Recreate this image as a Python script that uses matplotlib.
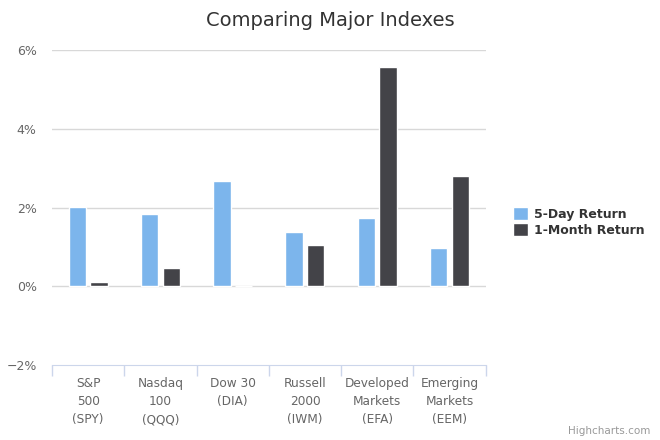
import numpy as np
import matplotlib.pyplot as plt

categories = ['S&P\n500\n(SPY)', 'Nasdaq\n100\n(QQQ)', 'Dow 30\n(DIA)',
              'Russell\n2000\n(IWM)', 'Developed\nMarkets\n(EFA)', 'Emerging\nMarkets\n(EEM)']
five_day = [2.01, 1.83, 2.67, 1.37, 1.73, 0.97]
one_month = [0.12, 0.46, 0.0, 1.04, 5.57, 2.80]
yticks = [-2, 0, 2, 4, 6]

fig = plt.figure(figsize=(6.6, 4.4), dpi=100)
ax = fig.add_axes([0.0788, 0.1705, 0.657, 0.7155])

x = np.arange(len(categories))
w = 0.24
ax.bar(x - 0.15, five_day, w, color='#7cb5ec', edgecolor='white', linewidth=1, zorder=3,
       label='5-Day Return')
ax.bar(x + 0.15, one_month, w, color='#434348', edgecolor='white', linewidth=1, zorder=3,
       label='1-Month Return')

ax.set_xlim(-0.5, len(categories) - 0.5)
ax.set_ylim(-2, 6)
ax.set_yticks(yticks)
ax.set_yticklabels(['%d%%' % v if v >= 0 else '\u2212%d%%' % -v for v in yticks])
for v in yticks[1:]:
    ax.axhline(v, color='#d8d8d8', linewidth=1, zorder=1)

ax.set_xticks(x)
ax.set_xticklabels(categories, linespacing=1.5)
ax.set_xticks(np.arange(-0.5, len(categories)), minor=True)
ax.tick_params(axis='x', which='major', length=0, pad=9, labelsize=8.7, colors='#666666')
ax.tick_params(axis='x', which='minor', length=8, color='#ccd6eb', width=1)
ax.tick_params(axis='y', length=0, pad=11, labelsize=9, colors='#666666')

for s in ['top', 'right', 'left']:
    ax.spines[s].set_visible(False)
ax.spines['bottom'].set_color('#ccd6eb')

fig.text(0.5, 0.953, 'Comparing Major Indexes', ha='center', va='center',
         fontsize=14, color='#333333')

leg = fig.legend(loc='center left', bbox_to_anchor=(0.768, 0.495), frameon=False,
                 fontsize=9, handlelength=1.2, handleheight=1.2, handletextpad=0.5,
                 labelspacing=0.2, borderpad=0)
for t in leg.get_texts():
    t.set_color('#333333')
    t.set_fontweight('bold')

fig.text(0.985, 0.02, 'Highcharts.com', ha='right', va='center', fontsize=7.5, color='#999999')

fig.savefig('out.png', dpi=100)
